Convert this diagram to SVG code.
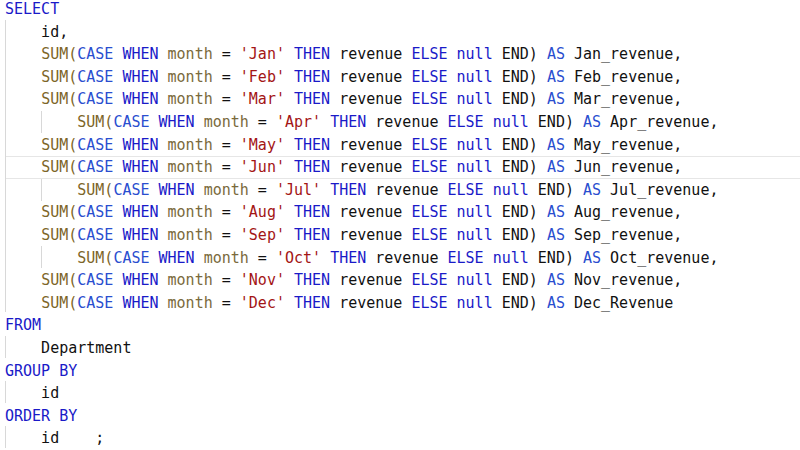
<svg xmlns="http://www.w3.org/2000/svg" width="800" height="450" viewBox="0 0 800 450">
<style>
text{font-family:"DejaVu Sans Mono","Liberation Mono",monospace;font-size:15px;fill:#111;white-space:pre}
.k{fill:#1a1ac8}.c{fill:#2a4ecf}.f{fill:#7d6528}.m{fill:#7a6a3c}.s{fill:#a31515}
.g{stroke:#d8d8d8;stroke-width:1}
</style>
<rect width="800" height="450" fill="#fff"/>
<g id="highlight"><line x1="5" y1="156.5" x2="800" y2="156.5" stroke="#e6e6e6"/><line x1="5" y1="178.5" x2="800" y2="178.5" stroke="#e6e6e6"/></g>
<g id="guides">
<line class="g" x1="5.5" y1="20" x2="5.5" y2="312"/>
<line class="g" x1="5.5" y1="336" x2="5.5" y2="358"/>
<line class="g" x1="5.5" y1="381" x2="5.5" y2="403"/>
<line class="g" x1="5.5" y1="426" x2="5.5" y2="448"/>
<line class="g" x1="41.5" y1="111" x2="41.5" y2="133"/>
<line class="g" x1="41.5" y1="179" x2="41.5" y2="201"/>
<line class="g" x1="41.5" y1="246" x2="41.5" y2="268"/>
</g>
<g id="code" xml:space="preserve">
<text x="5" y="14"><tspan class="k">SELECT</tspan></text>
<text x="5" y="36.6">    id,</text>
<text x="5" y="59.2">    <tspan class="f">SUM(</tspan><tspan class="c">CASE</tspan> <tspan class="k">WHEN</tspan> <tspan class="m">month</tspan> = <tspan class="s">'Jan'</tspan> <tspan class="k">THEN</tspan> revenue <tspan class="k">ELSE</tspan> <tspan class="k">null</tspan> END) <tspan class="c">AS</tspan> Jan_revenue,</text>
<text x="5" y="81.8">    <tspan class="f">SUM(</tspan><tspan class="c">CASE</tspan> <tspan class="k">WHEN</tspan> <tspan class="m">month</tspan> = <tspan class="s">'Feb'</tspan> <tspan class="k">THEN</tspan> revenue <tspan class="k">ELSE</tspan> <tspan class="k">null</tspan> END) <tspan class="c">AS</tspan> Feb_revenue,</text>
<text x="5" y="104.4">    <tspan class="f">SUM(</tspan><tspan class="c">CASE</tspan> <tspan class="k">WHEN</tspan> <tspan class="m">month</tspan> = <tspan class="s">'Mar'</tspan> <tspan class="k">THEN</tspan> revenue <tspan class="k">ELSE</tspan> <tspan class="k">null</tspan> END) <tspan class="c">AS</tspan> Mar_revenue,</text>
<text x="5" y="127">        <tspan class="f">SUM(</tspan><tspan class="c">CASE</tspan> <tspan class="k">WHEN</tspan> <tspan class="m">month</tspan> = <tspan class="s">'Apr'</tspan> <tspan class="k">THEN</tspan> revenue <tspan class="k">ELSE</tspan> <tspan class="k">null</tspan> END) <tspan class="c">AS</tspan> Apr_revenue,</text>
<text x="5" y="149.6">    <tspan class="f">SUM(</tspan><tspan class="c">CASE</tspan> <tspan class="k">WHEN</tspan> <tspan class="m">month</tspan> = <tspan class="s">'May'</tspan> <tspan class="k">THEN</tspan> revenue <tspan class="k">ELSE</tspan> <tspan class="k">null</tspan> END) <tspan class="c">AS</tspan> May_revenue,</text>
<text x="5" y="172.2">    <tspan class="f">SUM(</tspan><tspan class="c">CASE</tspan> <tspan class="k">WHEN</tspan> <tspan class="m">month</tspan> = <tspan class="s">'Jun'</tspan> <tspan class="k">THEN</tspan> revenue <tspan class="k">ELSE</tspan> <tspan class="k">null</tspan> END) <tspan class="c">AS</tspan> Jun_revenue,</text>
<text x="5" y="194.8">        <tspan class="f">SUM(</tspan><tspan class="c">CASE</tspan> <tspan class="k">WHEN</tspan> <tspan class="m">month</tspan> = <tspan class="s">'Jul'</tspan> <tspan class="k">THEN</tspan> revenue <tspan class="k">ELSE</tspan> <tspan class="k">null</tspan> END) <tspan class="c">AS</tspan> Jul_revenue,</text>
<text x="5" y="217.4">    <tspan class="f">SUM(</tspan><tspan class="c">CASE</tspan> <tspan class="k">WHEN</tspan> <tspan class="m">month</tspan> = <tspan class="s">'Aug'</tspan> <tspan class="k">THEN</tspan> revenue <tspan class="k">ELSE</tspan> <tspan class="k">null</tspan> END) <tspan class="c">AS</tspan> Aug_revenue,</text>
<text x="5" y="240">    <tspan class="f">SUM(</tspan><tspan class="c">CASE</tspan> <tspan class="k">WHEN</tspan> <tspan class="m">month</tspan> = <tspan class="s">'Sep'</tspan> <tspan class="k">THEN</tspan> revenue <tspan class="k">ELSE</tspan> <tspan class="k">null</tspan> END) <tspan class="c">AS</tspan> Sep_revenue,</text>
<text x="5" y="262.6">        <tspan class="f">SUM(</tspan><tspan class="c">CASE</tspan> <tspan class="k">WHEN</tspan> <tspan class="m">month</tspan> = <tspan class="s">'Oct'</tspan> <tspan class="k">THEN</tspan> revenue <tspan class="k">ELSE</tspan> <tspan class="k">null</tspan> END) <tspan class="c">AS</tspan> Oct_revenue,</text>
<text x="5" y="285.2">    <tspan class="f">SUM(</tspan><tspan class="c">CASE</tspan> <tspan class="k">WHEN</tspan> <tspan class="m">month</tspan> = <tspan class="s">'Nov'</tspan> <tspan class="k">THEN</tspan> revenue <tspan class="k">ELSE</tspan> <tspan class="k">null</tspan> END) <tspan class="c">AS</tspan> Nov_revenue,</text>
<text x="5" y="307.8">    <tspan class="f">SUM(</tspan><tspan class="c">CASE</tspan> <tspan class="k">WHEN</tspan> <tspan class="m">month</tspan> = <tspan class="s">'Dec'</tspan> <tspan class="k">THEN</tspan> revenue <tspan class="k">ELSE</tspan> <tspan class="k">null</tspan> END) <tspan class="c">AS</tspan> Dec_Revenue</text>
<text x="5" y="330.4"><tspan class="k">FROM</tspan></text>
<text x="5" y="353">    Department</text>
<text x="5" y="375.6"><tspan class="k">GROUP BY</tspan></text>
<text x="5" y="398.2">    id</text>
<text x="5" y="420.8"><tspan class="k">ORDER BY</tspan></text>
<text x="5" y="443.4">    id    ;</text>
</g>
</svg>
